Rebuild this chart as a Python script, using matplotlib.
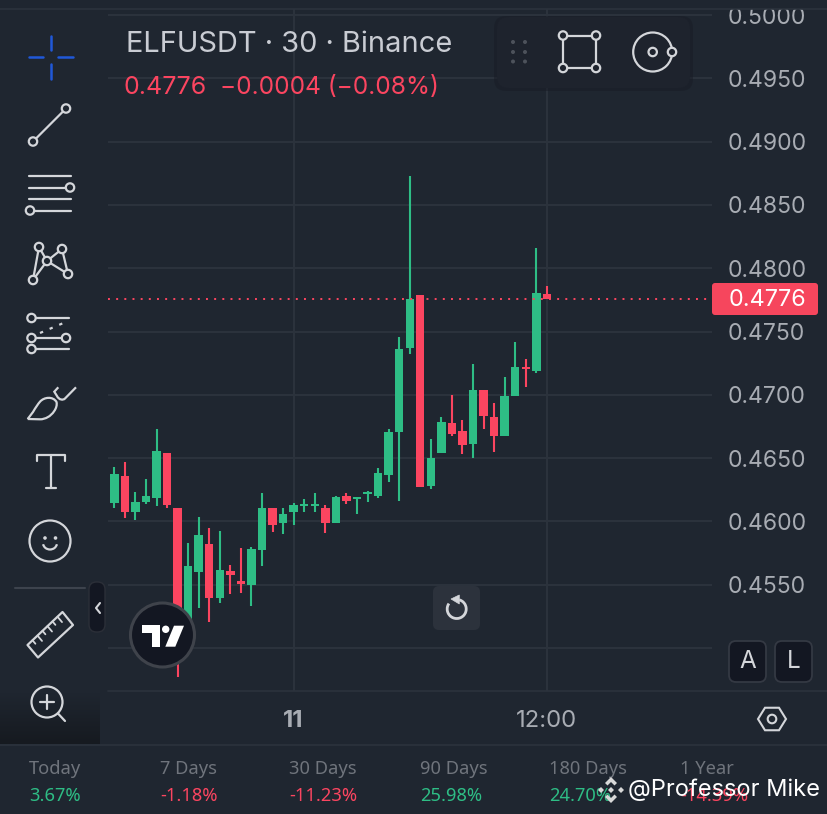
import numpy as np
import matplotlib
matplotlib.use('Agg')
import matplotlib.pyplot as plt
from matplotlib.patches import Circle, FancyBboxPatch, PathPatch, Polygon, Rectangle, Arc
from matplotlib.path import Path
from matplotlib.colors import LinearSegmentedColormap

plt.rcParams['font.family'] = ['Inter', 'DejaVu Sans']

# candles, 30 minute bars
opens = [.46148, .46358, .46077, .46153, .46187, .46540, .46108, .45160, .45598, .45821, .45397,
         .45608, .45532, .45500, .45777, .46108, .45984, .46077, .46121, .46121, .46108, .45984,
         .46200, .46176, .46218, .46197, .46365, .46705, .47371, .47789, .46279, .46539, .46781,
         .46718, .46610, .47039, .46821, .46671, .46989, .47216, .47187, .47797]
highs = [.46432, .46471, .46232, .46337, .46729, .46540, .46108, .45829, .46037, .45950, .45921,
         .45658, .45790, .45800, .46221, .46108, .46108, .46148, .46179, .46221, .46129, .46200,
         .46221, .46192, .46244, .46423, .46731, .47460, .48732, .47789, .46652, .46823, .47002,
         .46802, .47242, .47039, .46934, .47139, .47418, .47284, .48160, .47860]
lows = [.46103, .46029, .46008, .46140, .46119, .46103, .44774, .45110, .45319, .45205, .45353,
        .45424, .45432, .45332, .45650, .45913, .45903, .45969, .46071, .46071, .45905, .45984,
        .46134, .46055, .46152, .46181, .46313, .46163, .47321, .46268, .46252, .46539, .46676,
        .46534, .46502, .46729, .46552, .46671, .46989, .47058, .47171, .47755]
closes = [.46377, .46077, .46150, .46200, .46558, .46127, .45110, .45648, .45892, .45397, .45619,
          .45579, .45505, .45782, .46108, .45974, .46058, .46129, .46134, .46134, .45984, .46190,
          .46158, .46186, .46231, .46381, .46710, .47363, .47758, .46268, .46502, .46789, .46694,
          .46600, .47039, .46829, .46673, .46994, .47221, .47202, .47808, .47755]
last_price = 0.4776
price_ticks = [0.50, 0.495, 0.49, 0.485, 0.48, 0.475, 0.47, 0.465, 0.46, 0.455, 0.45]
price_labels = ['0.5000', '0.4950', '0.4900', '0.4850', '0.4800', '0.4750', '0.4700', '0.4650', '0.4600', '0.4550', '']
time_ticks = [17, 41]
time_labels = ['11', '12:00']
periods = ['Today', '7 Days', '30 Days', '90 Days', '180 Days', '1 Year']
changes = ['3.67%', '-1.18%', '-11.23%', '25.98%', '24.70%', '-14.39%']

BG = '#1f2630'
GRID = '#2c333d'
GREEN = '#2ebd85'
RED = '#fb4560'
TXT = '#a8acb3'
ICON = '#d4d6da'
DARK = '#131722'

W, H = 828, 814
fig = plt.figure(figsize=(W / 100, H / 100), dpi=100, facecolor=BG)

# price chart
ax = fig.add_axes([108 / W, (H - 691) / H, (712 - 108) / W, 691 / H], facecolor=BG)
ax.set_xlim(-0.597, 56.65)
ax.set_ylim(0.5 - 676 / 12660, 0.5 + 15 / 12660)
for s in ax.spines.values():
    s.set_visible(False)
ax.grid(True, color=GRID, lw=1.4, zorder=0)
ax.set_axisbelow(True)
ax.yaxis.tick_right()
ax.set_yticks(price_ticks)
ax.set_yticklabels(price_labels, fontsize=16.5, color=TXT)
ax.set_xticks(time_ticks)
ax.set_xticklabels(time_labels, fontsize=17.2, color=TXT)
ax.get_xticklabels()[0].set_fontweight('bold')
ax.tick_params(axis='both', length=0)
ax.tick_params(axis='y', pad=11)
ax.tick_params(axis='x', pad=14)

xs = np.arange(len(opens))
for x, o, h, l, c in zip(xs, opens, highs, lows, closes):
    col = GREEN if c >= o else RED
    ax.vlines(x, l, h, color=col, lw=1.5, zorder=3)
    ax.bar(x, max(abs(c - o), 0.00014), bottom=min(o, c), width=0.8, color=col, zorder=4)
ax.axhline(last_price, color=RED, lw=1.4, dashes=(1, 3.2), zorder=5)

# everything below is the app chrome, drawn in pixel coordinates
ui = fig.add_axes([0, 0, 1, 1], zorder=5)
ui.patch.set_alpha(0)
ui.axis('off')


def line(xv, yv, c=ICON, lw=1.6, z=6, **kw):
    ui.plot(xv, yv, color=c, lw=lw, solid_capstyle='round', zorder=z, **kw)


def ring(x, y, r=4.2, c=ICON, lw=1.6, fc=BG):
    ui.add_patch(Circle((x, y), r, fc=fc, ec=c, lw=lw, zorder=7))


def box(x0, y0, x1, y1, rad, fc, ec='none', lw=1.0, alpha=None, z=4):
    ui.add_patch(FancyBboxPatch((x0 + rad, y0 + rad), x1 - x0 - 2 * rad, y1 - y0 - 2 * rad,
                                boxstyle='round,pad=%f,rounding_size=%f' % (rad, rad),
                                fc=fc, ec=ec, lw=lw, alpha=alpha, zorder=z))


# strip on top, clips the first price label
ui.add_patch(Rectangle((0, 0), W, 9, fc=BG, ec='none', zorder=3))
line([0, W], [9, 9], c=GRID, lw=1.2, z=3)
# axis lines
line([0, W], [745, 745], c=GRID, lw=1.2, z=3)
line([108, W], [691, 691], c=GRID, lw=1.2, z=3)

# title
ui.text(126, 45, 'ELFUSDT · 30 · Binance', fontsize=20.9, color='#c9ccd3', va='center', ha='left')
ui.text(124, 87.5, '0.4776', fontsize=18, color=RED, va='center', ha='left')
ui.text(220, 87.5, '−0.0004 (−0.08%)', fontsize=17.6, color=RED, va='center', ha='left')

# floating toolbar
box(494, 16, 693, 91, 12, '#181c25', alpha=0.5, z=3)
box(497, 17, 690, 88, 12, '#1e232d')
for dx in [513, 525]:
    for dy in [42, 52, 61.5]:
        ui.add_patch(Circle((dx, dy), 2, fc='#4d525b', ec='none', zorder=6))
line([563, 596, 596, 563, 563], [35.5, 35.5, 68, 68, 35.5])
for cx, cy in [(563, 35.5), (596, 35.5), (563, 68), (596, 68)]:
    ring(cx, cy, fc='#1e232d')
ui.add_patch(Circle((652.7, 52), 19.5, fc='none', ec=ICON, lw=1.6, zorder=6))
ring(652.7, 52, fc='#1e232d')
ring(672, 52, fc='#1e232d')

# last price tag
box(712, 283, 818, 315, 3, '#f6465d', z=6)
ui.text(767.5, 299.5, '0.4776', fontsize=16.8, color='white', va='center', ha='center', zorder=7)

# crosshair
BLUE = '#2058d8'
line([51, 51], [35.5, 49.5], c=BLUE, lw=1.8)
line([51, 51], [64, 78.5], c=BLUE, lw=1.8)
line([29.5, 43.5], [57, 57], c=BLUE, lw=1.8)
line([58.5, 73.5], [57, 57], c=BLUE, lw=1.8)

# trend line
line([33, 66], [141.5, 108.5])
ring(33, 141.5)
ring(66, 108.5)

# parallel lines
line([29, 71], [176, 176])
line([29, 68], [187.5, 187.5])
ring(70, 187.5)
line([29, 71], [199, 199])
line([32, 71], [210.5, 210.5])
ring(30, 210.5)

# xabcd
pts = {'a': (39, 247), 'b': (62, 249), 'c': (47, 261), 'd': (68, 274), 'e': (33, 280)}
for p, q in ['ae', 'ac', 'ec', 'cb', 'cd', 'bd']:
    line([pts[p][0], pts[q][0]], [pts[p][1], pts[q][1]])
for p in pts:
    ring(*pts[p])

# fib
line([32, 69], [318, 318])
ring(31.5, 318)
ui.plot([40, 67], [333, 321.5], color=ICON, lw=1.6, dashes=(1.5, 3.2), zorder=6)
line([32, 66], [338, 338])
ring(31.5, 338)
ring(66, 338)
line([32, 69], [349, 349])
ring(31.5, 349)

# brush
brush = Path([(27.7, 419), (33, 412), (37, 405), (40, 401.7), (44, 397), (53, 396), (56.5, 402),
              (58, 408), (52, 415), (48, 417), (44, 419.5), (40, 419.3), (27.7, 419),
              (58.3, 387.3), (54.3, 391.7), (54.3, 391.7), (57, 396), (59, 400), (63, 400.5), (65, 398.5), (76, 387.3)],
             [Path.MOVETO, Path.LINETO, Path.CURVE3, Path.CURVE3, Path.CURVE4, Path.CURVE4, Path.CURVE4,
              Path.CURVE4, Path.CURVE4, Path.CURVE4, Path.CURVE3, Path.CURVE3, Path.LINETO,
              Path.MOVETO, Path.LINETO, Path.LINETO, Path.LINETO, Path.CURVE4, Path.CURVE4, Path.CURVE4, Path.LINETO])
ui.add_patch(PathPatch(brush, fc='none', ec=ICON, lw=1.6, zorder=6))

# text tool
line([37, 37, 65, 65], [461, 455, 455, 461])
line([51, 51], [455, 488])
line([46, 56], [488, 488])

# smiley
ui.add_patch(Circle((50, 541), 20.5, fc='none', ec=ICON, lw=1.6, zorder=6))
ui.add_patch(Circle((45, 538), 1.8, fc=ICON, ec='none', zorder=6))
ui.add_patch(Circle((55.5, 538), 1.8, fc=ICON, ec='none', zorder=6))
ui.add_patch(Arc((50, 543), 14, 13, theta1=10, theta2=170, ec=ICON, lw=1.6, zorder=6))

line([15, 85], [588, 588], c='#3d434d', lw=1.5)

# ruler
corners = np.array([(27.5, 645), (38, 657.5), (73, 625), (62.5, 612)])
ui.add_patch(Polygon(corners, closed=True, fc='none', ec=ICON, lw=1.6, joinstyle='round', zorder=6))
along = (corners[3] - corners[0]) / 7
across = (corners[1] - corners[0]) / np.linalg.norm(corners[1] - corners[0])
for k in range(1, 7):
    start = corners[0] + along * k
    end = start + across * (7 if k % 2 == 0 else 4.5)
    line([start[0], end[0]], [start[1], end[1]], lw=1.3)

# bottom fade of the tool column, with zoom on top
fade = LinearSegmentedColormap.from_list('fade', [BG, '#161a20'])
ui.imshow(np.linspace(0, 1, 50).reshape(-1, 1), extent=[0, 100, 744, 692], cmap=fade, aspect='auto', zorder=1, origin='upper')

# zoom
ui.add_patch(Circle((47, 702), 15.5, fc='none', ec=ICON, lw=1.6, zorder=6))
line([40, 54], [702, 702])
line([47, 47], [695, 709])
line([58, 65], [713.5, 721])

# collapse handle
box(89, 582, 105, 632, 7.5, DARK, ec='#2b2f38', lw=1.0)
line([100, 96, 100], [603, 608, 613], lw=1.5)

# tradingview badge
ui.add_patch(Circle((162.5, 635), 32, fc=DARK, ec='#3f434b', lw=2.2, zorder=6))
ui.add_patch(Polygon([(142, 625), (160, 625), (160, 646.7), (151.7, 646.7), (151.7, 633.3), (142, 633.3)], fc='white', ec='none', zorder=7))
ui.add_patch(Circle((165.7, 629.3), 3.7, fc='white', ec='none', zorder=7))
ui.add_patch(Polygon([(174, 625.7), (184, 625.7), (175.3, 646.7), (165.3, 646.7)], fc='white', ec='none', zorder=7))

# reset button
box(433, 586, 480, 630, 6, '#2c323c')
ui.add_patch(Arc((456.7, 609), 19, 19, theta1=-75, theta2=215, ec=ICON, lw=2.0, zorder=6))
ui.add_patch(Polygon([(451, 599), (459.3, 595), (459.3, 604)], fc=ICON, ec=ICON, lw=0.5, zorder=6))

# A / L buttons
box(729, 641, 766, 682, 7, DARK, ec='#343943', lw=1.3)
box(775, 641, 812, 682, 7, DARK, ec='#343943', lw=1.3)
ui.text(747.5, 662, 'A', fontsize=17.5, color=ICON, va='center', ha='center', zorder=7)
ui.text(793.5, 662, 'L', fontsize=17.5, color=ICON, va='center', ha='center', zorder=7)

# settings hexagon
ang = np.deg2rad(np.arange(0, 360, 60))
ui.add_patch(Polygon(np.c_[772 + 14 * np.cos(ang), 719 + 13 * np.sin(ang)], closed=True, fc='none', ec=ICON, lw=1.5, zorder=6))
ui.add_patch(Circle((772, 719), 4.3, fc='none', ec=ICON, lw=1.5, zorder=6))

# performance strip
strip_x = [29, 160, 289, 420, 549, 680]
for x, p, v in zip(strip_x, periods, changes):
    col = RED if v.startswith('-') else GREEN
    ui.text(x, 769, p, fontsize=13.2, color='#6f747c', va='center', ha='left', family=['Noto Sans', 'DejaVu Sans'])
    ui.text(x, 796, v, fontsize=13.2, color=col, va='center', ha='left', family=['Noto Sans', 'DejaVu Sans'])

# watermark
wm = 611
ui.add_patch(Polygon([(wm, 777), (wm + 6, 783), (wm + 3.5, 785.5), (wm, 782), (wm - 3.5, 785.5), (wm - 6, 783)], fc='#d8d8d8', ec='none', zorder=8))
ui.add_patch(Polygon([(wm, 803), (wm + 6, 797), (wm + 3.5, 794.5), (wm, 798), (wm - 3.5, 794.5), (wm - 6, 797)], fc='#d8d8d8', ec='none', zorder=8))
for dx, dy in [(-10, 0), (10, 0), (0, 0)]:
    ui.add_patch(Polygon([(wm + dx, 790 - 3), (wm + dx + 3, 790), (wm + dx, 793), (wm + dx - 3, 790)], fc='#d8d8d8', ec='none', zorder=8))
ui.text(628, 790, '@Professor Mike', fontsize=17, color='white', va='center', ha='left', zorder=9)

ui.set_xlim(0, W)
ui.set_ylim(H, 0)

fig.savefig('out.png', dpi=100, facecolor=BG)
